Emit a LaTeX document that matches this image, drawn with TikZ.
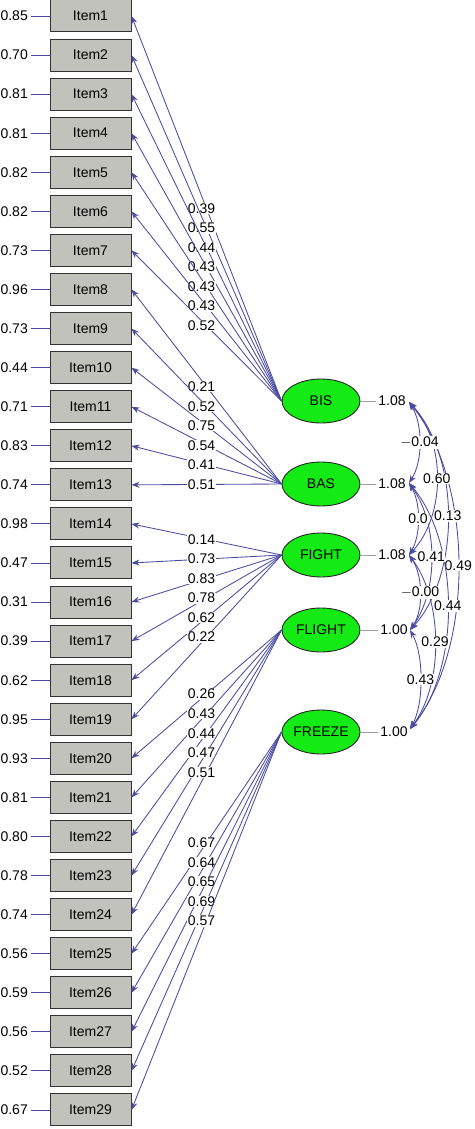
\documentclass[tikz,border=0pt]{standalone}
\usepackage{fontspec}
\setmainfont{Liberation Sans}
\usetikzlibrary{arrows.meta,shapes.geometric}
\definecolor{edgeblue}{RGB}{75,75,160}
\definecolor{boxgray}{RGB}{194,194,188}
\definecolor{latgreen}{RGB}{20,235,20}
\definecolor{vargray}{RGB}{160,160,160}
\tikzset{
  item/.style={draw=black!80, fill=boxgray, line width=1pt, minimum width=81pt, minimum height=32pt, inner sep=0pt, font=\fontsize{14}{16}\selectfont},
  latent/.style={ellipse, draw=black!85, fill=latgreen, line width=0.9pt, minimum width=78pt, minimum height=44pt, inner sep=0pt, font=\fontsize{14}{16}\selectfont},
  num/.style={font=\fontsize{14}{16}\selectfont, inner sep=2.5pt},
  lbl/.style={font=\fontsize{14}{16}\selectfont, fill=white, inner sep=0.6pt, pos=0.5},
  loadlbl/.style={lbl, xshift=-5pt},
  load/.style={draw=edgeblue, line width=0.85pt, -{Stealth[length=8pt,width=6pt]}},
  resid/.style={draw=edgeblue, line width=0.85pt},
  varline/.style={draw=vargray, line width=0.8pt},
  cov/.style={draw=edgeblue, line width=0.85pt, {Stealth[length=8pt,width=6pt]}-{Stealth[length=8pt,width=6pt]}}
}
\begin{document}
\begin{tikzpicture}[x=1pt, y=-1pt]
\useasboundingbox (0,0) rectangle (474,1129);
% items and residuals
\foreach \i/\e in {1/0.85,2/0.70,3/0.81,4/0.81,5/0.82,6/0.82,7/0.73,8/0.96,9/0.73,10/0.44,11/0.71,12/0.83,13/0.74,14/0.98,15/0.47,16/0.31,17/0.39,18/0.62,19/0.95,20/0.93,21/0.81,22/0.80,23/0.78,24/0.74,25/0.56,26/0.59,27/0.56,28/0.52,29/0.67}{
  \pgfmathsetmacro{\yy}{16+(\i-1)*39.07}
  \node[item] (I\i) at (90.5,\yy) {Item\i};
  \node[num, anchor=east] (E\i) at (30.5,\yy) {\e};
  \draw[resid] (E\i.east) -- (I\i.west);
}
% latents
\node[latent] (BIS) at (321,401) {BIS};
\node[latent] (BAS) at (321,484) {BAS};
\node[latent] (FIGHT) at (321,555) {FIGHT};
\node[latent] (FLIGHT) at (321,630) {FLIGHT};
\node[latent] (FREEZE) at (321,732) {FREEZE};
% variances
\node[num] (VBIS) at (392,401) {1.08};
\node[num] (VBAS) at (392,484) {1.08};
\node[num] (VFIGHT) at (392,555) {1.08};
\node[num] (VFLIGHT) at (394,630) {1.00};
\node[num] (VFREEZE) at (394,732) {1.00};
\draw[varline] (BIS.east) -- (VBIS.west);
\draw[varline] (BAS.east) -- (VBAS.west);
\draw[varline] (FIGHT.east) -- (VFIGHT.west);
\draw[varline] (FLIGHT.east) -- (VFLIGHT.west);
\draw[varline] (FREEZE.east) -- (VFREEZE.west);
% loadings
\foreach \i/\l in {1/0.39,2/0.55,3/0.44,4/0.43,5/0.43,6/0.43,7/0.52}
  \draw[load] (BIS.west) -- node[loadlbl]{\l} (I\i.east);
\foreach \i/\l in {8/0.21,9/0.52,10/0.75,11/0.54,12/0.41,13/0.51}
  \draw[load] (BAS.west) -- node[loadlbl]{\l} (I\i.east);
\foreach \i/\l in {14/0.14,15/0.73,16/0.83,17/0.78,18/0.62,19/0.22}
  \draw[load] (FIGHT.west) -- node[loadlbl]{\l} (I\i.east);
\foreach \i/\l in {20/0.26,21/0.43,22/0.44,23/0.47,24/0.51}
  \draw[load] (FLIGHT.west) -- node[loadlbl]{\l} (I\i.east);
\foreach \i/\l in {25/0.67,26/0.64,27/0.65,28/0.69,29/0.57}
  \draw[load] (FREEZE.west) -- node[loadlbl]{\l} (I\i.east);
% covariance anchors
\coordinate (cBIS) at (409,402);
\coordinate (cBAS) at (409,483);
\coordinate (cFIGHT) at (409,555);
\coordinate (cFLIGHT) at (410,630);
\coordinate (cFREEZE) at (410,729);
% covariances
\draw[cov] (cBIS) .. controls +(65,80) and +(65,-80) .. node[lbl]{0.49} (cFREEZE);
\draw[cov] (cBIS) .. controls +(51,55) and +(51,-55) .. node[lbl]{0.13} (cFLIGHT);
\draw[cov] (cBAS) .. controls +(51,60) and +(51,-60) .. node[lbl]{0.44} (cFREEZE);
\draw[cov] (cBIS) .. controls +(37,40) and +(37,-40) .. node[lbl]{0.60} (cFIGHT);
\draw[cov] (cBAS) .. controls +(29,40) and +(29,-40) .. node[lbl]{0.41} (cFLIGHT);
\draw[cov] (cFIGHT) .. controls +(34,45) and +(34,-45) .. node[lbl]{0.29} (cFREEZE);
\draw[cov] (cBIS) .. controls +(14,22) and +(14,-22) .. node[lbl]{$-$0.04} (cBAS);
\draw[cov] (cBAS) .. controls +(12,20) and +(12,-20) .. node[lbl]{0.0} (cFIGHT);
\draw[cov] (cFIGHT) .. controls +(14,20) and +(14,-20) .. node[lbl]{$-$0.00} (cFLIGHT);
\draw[cov] (cFLIGHT) .. controls +(14,25) and +(14,-25) .. node[lbl]{0.43} (cFREEZE);
\end{tikzpicture}
\end{document}
